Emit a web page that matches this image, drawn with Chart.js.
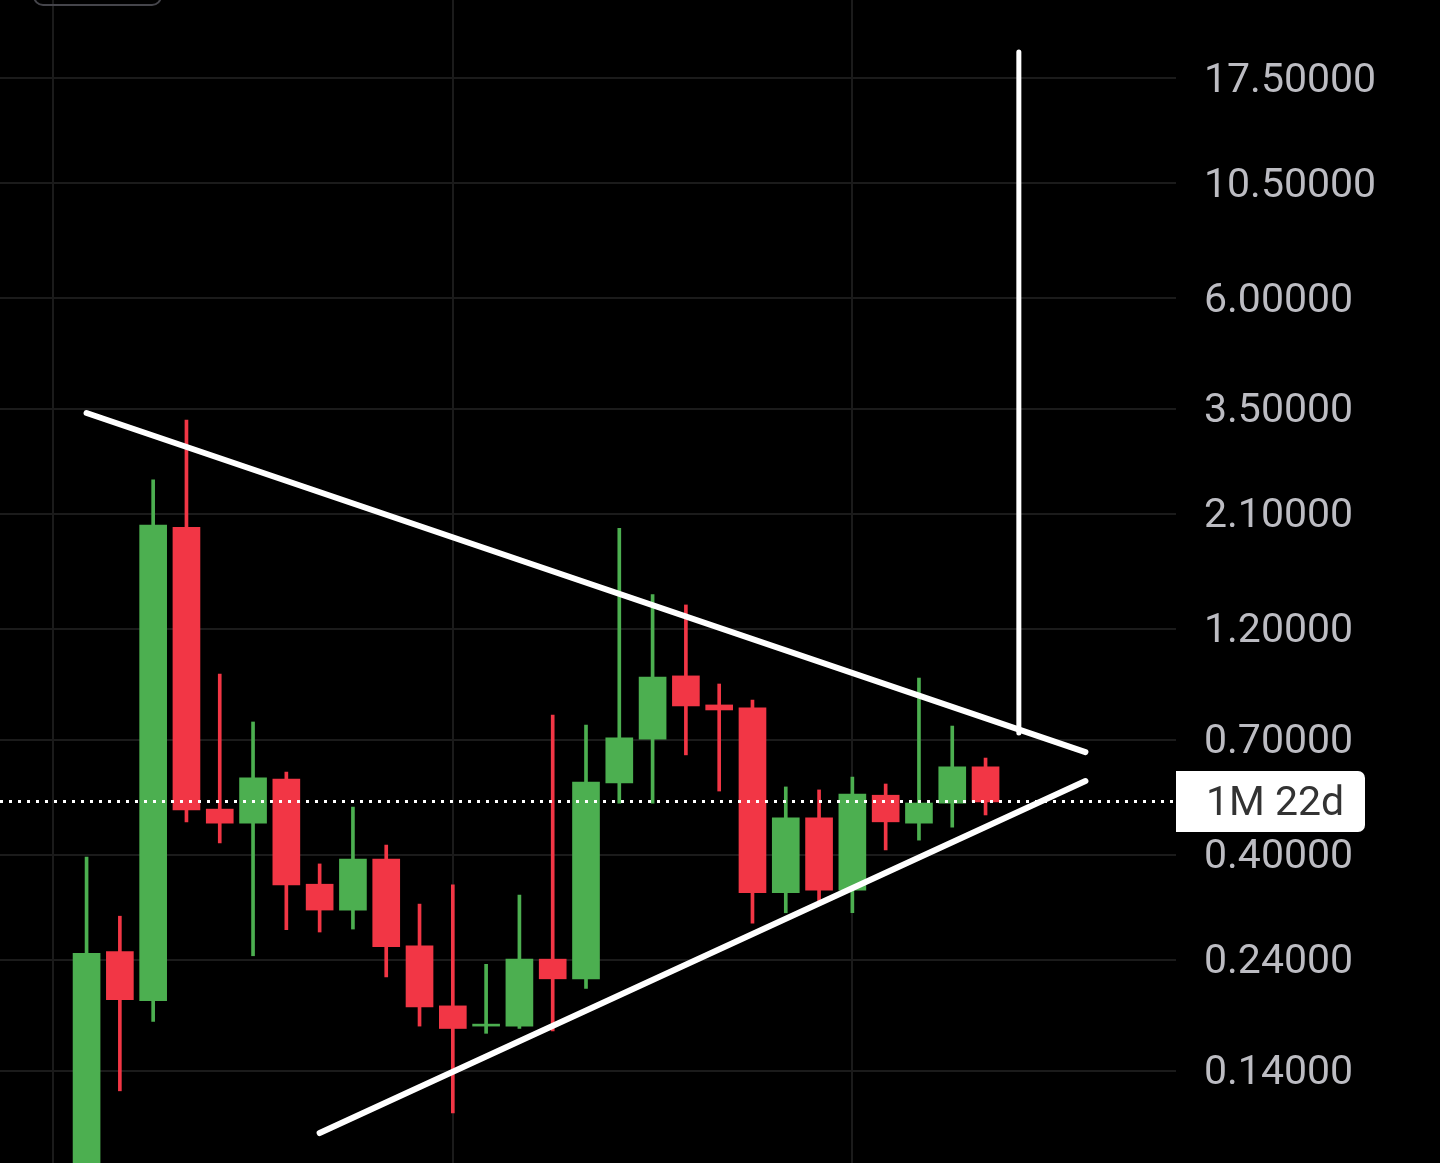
<!DOCTYPE html>
<html lang="en">
<head>
<meta charset="UTF-8">
<title>Monthly candles, log scale</title>
<script src="https://cdn.jsdelivr.net/npm/chart.js"></script>
<style>
  body { margin: 0; background: #000; overflow: hidden; }
  #wrap { position: relative; width: 1440px; height: 1163px; }
  #tab { position: absolute; left: 33px; top: -40px; width: 125px; height: 42px;
         border: 2px solid #45454b; border-radius: 10px; }
</style>
</head>
<body>
<div id="wrap">
  <canvas id="chart"></canvas>
  <div id="tab"></div>
</div>
<script>
// monthly candles
var opens  = [0.075, 0.250, 0.197, 1.97, 0.500, 0.467, 0.579, 0.347, 0.306, 0.392,
              0.257, 0.192, 0.174, 0.174, 0.241, 0.219, 0.568, 0.703, 0.956, 0.830,
              0.818, 0.333, 0.479, 0.337, 0.535, 0.467, 0.515, 0.614];
var highs  = [0.396, 0.297, 2.48, 3.32, 0.965, 0.764, 0.599, 0.383, 0.505, 0.420,
              0.315, 0.346, 0.235, 0.329, 0.790, 0.753, 1.96, 1.42, 1.35, 0.919,
              0.850, 0.557, 0.549, 0.584, 0.565, 0.946, 0.749, 0.641];
var lows   = [0.070, 0.127, 0.178, 0.470, 0.424, 0.245, 0.278, 0.275, 0.279, 0.221,
              0.174, 0.114, 0.168, 0.172, 0.170, 0.209, 0.515, 0.515, 0.651, 0.546,
              0.287, 0.302, 0.317, 0.302, 0.410, 0.430, 0.458, 0.486];
var closes = [0.248, 0.198, 1.99, 0.498, 0.467, 0.582, 0.346, 0.306, 0.392, 0.256,
              0.191, 0.172, 0.1757, 0.241, 0.219, 0.570, 0.707, 0.951, 0.826, 0.810,
              0.333, 0.479, 0.337, 0.538, 0.470, 0.515, 0.614, 0.518];

var priceTicks = [0.14, 0.24, 0.4, 0.7, 1.2, 2.1, 3.5, 6, 10.5, 17.5];
var yearCols = [-1, 11, 23];

// drawn lines: [bar index, price]
var upperLine = [[0, 3.435], [30, 0.660]];
var lowerLine = [[7, 0.1034], [30, 0.5732]];
var targetLine = [[28, 19.89], [28, 0.724]];
var lastPrice = 0.519;
var countdown = '1M 22d';

var viewX = [-2.6, 32.72];
var viewY = [0.0894, 25.61];

var GREEN = '#4caf50', RED = '#f23645', GRID = '#1b1b1b';

var idx = opens.map(function (_, i) { return i; });
var candleColors = idx.map(function (i) { return closes[i] >= opens[i] ? GREEN : RED; });
var toPts = function (arr) { return arr.map(function (p) { return { x: p[0], y: p[1] }; }); };

var lineDs = function (pts, width, order) {
  return { type: 'line', data: toPts(pts), borderColor: '#fff', borderWidth: width,
           borderCapStyle: 'round', pointRadius: 0, fill: false, order: order };
};

// no label overhang: plot runs edge to edge like the app
var noPad = function (s) {
  s.paddingTop = 0; s.paddingBottom = 0; s.paddingLeft = 0; s.paddingRight = 0;
};

var priceTag = {
  id: 'priceTag',
  afterDraw: function (chart) {
    var ctx = chart.ctx, area = chart.chartArea;
    var y = chart.scales.y.getPixelForValue(lastPrice);
    var w = 189, h = 61;
    ctx.save();
    ctx.fillStyle = '#fff';
    ctx.beginPath();
    ctx.roundRect(area.right, y - h / 2, w, h, [0, 7, 7, 0]);
    ctx.fill();
    ctx.fillStyle = '#333';
    ctx.font = '41px Roboto';
    ctx.textBaseline = 'middle';
    ctx.fillText(countdown, area.right + 30, y + 3);
    ctx.restore();
  }
};

new Chart(document.getElementById('chart'), {
  type: 'bar',
  data: {
    datasets: [
      { data: idx.map(function (i) { return { x: i, y: [lows[i], highs[i]] }; }),
        backgroundColor: candleColors, barThickness: 3, grouped: false, order: 5 },
      { data: idx.map(function (i) { return { x: i, y: [opens[i], closes[i]] }; }),
        backgroundColor: candleColors, barThickness: 27, grouped: false, order: 4 },
      { type: 'line', data: [{ x: viewX[0], y: lastPrice }, { x: viewX[1], y: lastPrice }],
        borderColor: '#fff', borderWidth: 3, borderDash: [3, 6], pointRadius: 0, order: 3 },
      lineDs(upperLine, 6, 2),
      lineDs(lowerLine, 6, 2),
      lineDs(targetLine, 5, 1)
    ]
  },
  options: {
    responsive: true,
    maintainAspectRatio: false,
    animation: false,
    layout: { padding: 0 },
    plugins: { legend: { display: false }, tooltip: { enabled: false } },
    scales: {
      x: {
        type: 'linear', min: viewX[0], max: viewX[1], bounds: 'data', offset: false,
        afterBuildTicks: function (s) { s.ticks = yearCols.map(function (v) { return { value: v }; }); },
        afterFit: function (s) { s.height = 0; noPad(s); },
        ticks: { display: false },
        grid: { color: GRID, lineWidth: 2, drawTicks: false, offset: false },
        border: { display: false }
      },
      y: {
        type: 'logarithmic', position: 'right', min: viewY[0], max: viewY[1], bounds: 'data',
        afterBuildTicks: function (s) { s.ticks = priceTicks.map(function (v) { return { value: v }; }); },
        afterFit: function (s) { s.width = 264; noPad(s); },
        ticks: {
          autoSkip: false, padding: 28, labelOffset: 3, color: '#bcbcc2',
          font: { family: 'Roboto', size: 41 },
          callback: function (v) { return Number(v).toFixed(5); }
        },
        grid: { color: GRID, lineWidth: 2, drawTicks: false },
        border: { display: false }
      }
    }
  },
  plugins: [priceTag]
});
</script>
</body>
</html>
